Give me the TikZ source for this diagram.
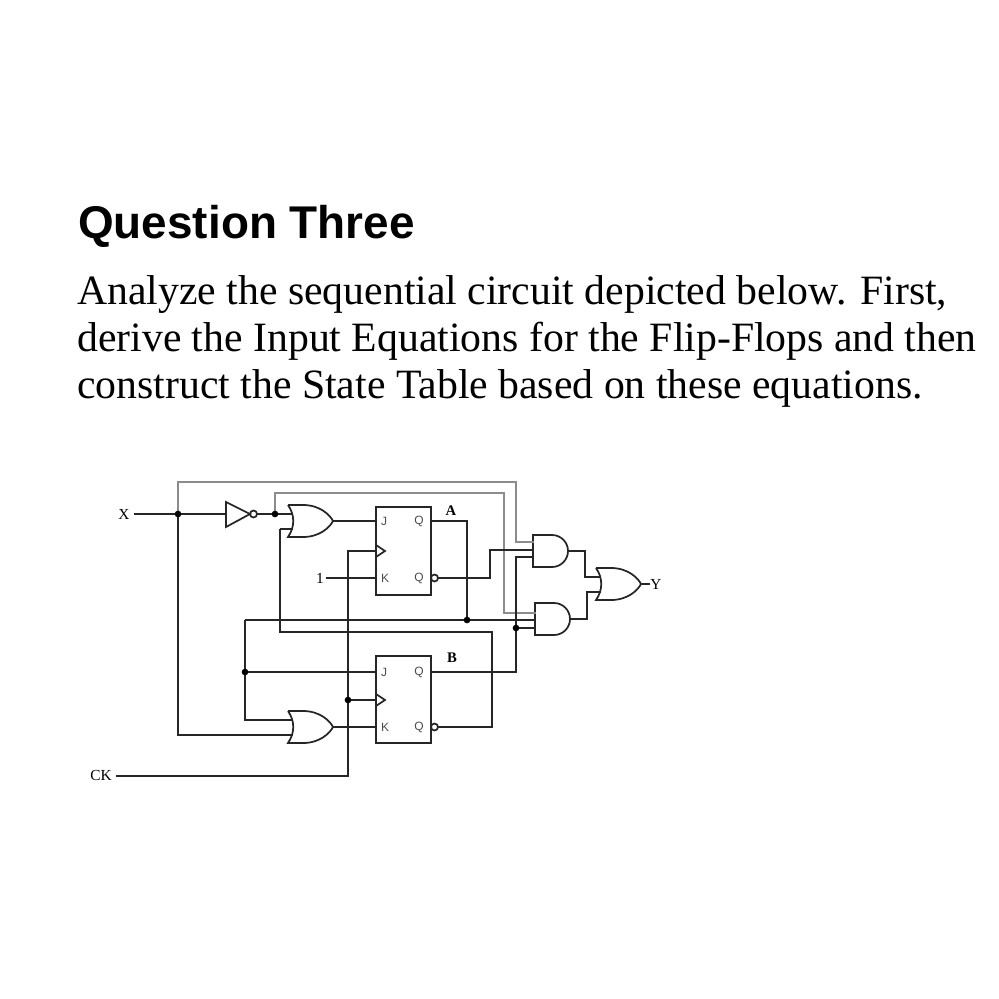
\documentclass[tikz,border=0pt]{standalone}
\usepackage{fontspec}
\setmainfont{Liberation Serif}
\newfontfamily\arialfont{Liberation Sans}
\begin{document}
\begin{tikzpicture}[x=0.75pt,y=-0.75pt,
  wire/.style={line width=1.3pt,black!85},
  gwire/.style={line width=1.3pt,black!45},
  gate/.style={line width=1.3pt,black!85},
  dot/.style={circle,fill=black,inner sep=0pt,minimum size=5pt},
  pin/.style={font=\arialfont\fontsize{9}{9}\selectfont,text=black!70,inner sep=0pt},
  orgate/.pic={\draw[gate] (0,-16) -- (15,-16) .. controls (32,-16) and (42,-6) .. (45,0) .. controls (42,6) and (32,16) .. (15,16) -- (0,16) .. controls (7,6) and (7,-6) .. (0,-16);},
  andgate/.pic={\draw[gate] (0,-16) -- (19,-16) arc(-90:90:16) -- (0,16) -- cycle;}]
\useasboundingbox (0,0) rectangle (999,999);
% text
\node[anchor=base west,inner sep=0pt,font=\arialfont\bfseries\fontsize{34.4}{34.4}\selectfont] (title) at (78,238) {Question Three};
\node[anchor=base west,inner sep=0pt,align=left,font=\fontsize{31.3}{34.9}\selectfont] (body) at (77,398) {Analyze the sequential circuit depicted below. First,\\derive the Input Equations for the Flip-Flops and then\\construct the State Table based on these equations.};
% flip-flops
\draw[gate] (376,507) rectangle (431,595);
\draw[gate] (376,656) rectangle (431,743);
\draw[gate] (376,545) -- (385,551) -- (376,557);
\draw[gate] (376,694) -- (385,700) -- (376,706);
\node[pin] (ja) at (384,521) {J}; \node[pin] (qa) at (419,521) {Q};
\node[pin] (ka) at (385,578) {K}; \node[pin] (qna) at (419,578) {Q};
\node[pin] (jb) at (384,672) {J}; \node[pin] (qb) at (419,672) {Q};
\node[pin] (kb) at (385,727) {K}; \node[pin] (qnb) at (419,727) {Q};
\draw[gate] (434.5,578) circle (3.5);
\draw[gate] (434.5,727) circle (3.5);
\node[font=\bfseries\fontsize{11}{11}\selectfont] (la) at (451,511) {A};
\node[font=\bfseries\fontsize{11}{11}\selectfont] (lb) at (452,658) {B};
% gates
\pic at (288,521) {orgate};
\pic at (288,727) {orgate};
\pic at (533,551) {andgate};
\pic at (535,619) {andgate};
\pic at (596,584) {orgate};
\draw[gate] (226,502) -- (250,514) -- (226,527) -- cycle;
\draw[gate] (253.5,514) circle (3.5);
% labels
\node[font=\fontsize{11.5}{11.5}\selectfont] (lx) at (124,514) {X};
\node[font=\fontsize{11.5}{11.5}\selectfont] (l1) at (320,578) {1};
\node[font=\fontsize{11.5}{11.5}\selectfont] (lck) at (101,775) {CK};
\node[font=\fontsize{11.5}{11.5}\selectfont] (ly) at (656,584) {Y};
% wires
\draw[wire] (134,514) -- (226,514);
\draw[gwire] (178,514) -- (178,482) -- (516,482) -- (516,542) -- (534,542);
\draw[wire] (178,514) -- (178,735) -- (293,735);
\draw[wire] (257,514) -- (293,514);
\draw[gwire] (275,514) -- (275,493) -- (504,493) -- (504,613) -- (536,613);
\draw[wire] (333,521) -- (376,521);
\draw[wire] (280,529) -- (280,632) -- (492,632) -- (492,727) -- (438,727);
\draw[wire] (280,529) -- (293,529);
\draw[wire] (326,578) -- (376,578);
\draw[wire] (431,521) -- (467,521) -- (467,620);
\draw[wire] (245,620) -- (536,620);
\draw[wire] (438,578) -- (490,578) -- (490,550) -- (534,550);
\draw[wire] (431,672) -- (516,672) -- (516,557) -- (534,557);
\draw[wire] (516,628) -- (536,628);
\draw[wire] (245,620) -- (245,720) -- (293,720);
\draw[wire] (245,672) -- (376,672);
\draw[wire] (333,727) -- (376,727);
\draw[wire] (116,776) -- (348,776) -- (348,551) -- (376,551);
\draw[wire] (348,700) -- (376,700);
\draw[wire] (568,551) -- (585,551) -- (585,577) -- (601,577);
\draw[wire] (570,619) -- (587,619) -- (587,592) -- (601,592);
\draw[wire] (641,584) -- (650,584);
% junctions
\node[dot] (d1) at (178,514) {};
\node[dot] (d2) at (275,514) {};
\node[dot] (d3) at (467,620) {};
\node[dot] (d4) at (516,628) {};
\node[dot] (d5) at (245,672) {};
\node[dot] (d6) at (348,700) {};
\end{tikzpicture}
\end{document}
